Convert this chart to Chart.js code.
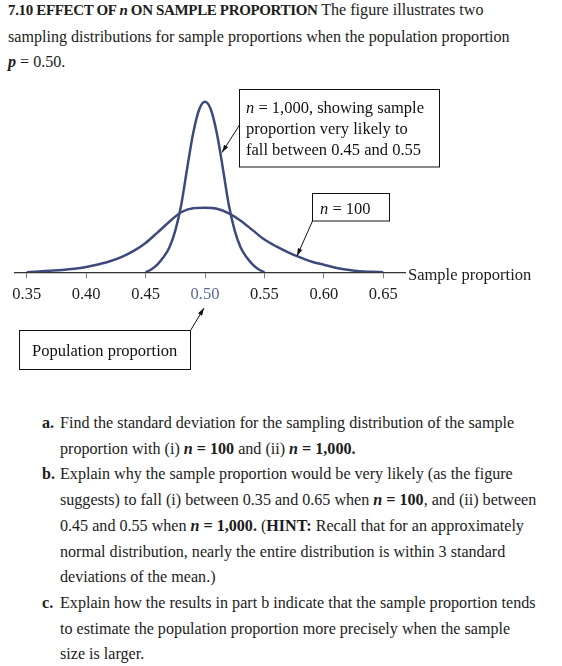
<!DOCTYPE html>
<html>
<head>
<meta charset="utf-8">
<script src="https://cdn.jsdelivr.net/npm/chart.js@4/dist/chart.umd.min.js"></script>
<style>
  body { margin: 0; background: #fff; width: 562px; height: 666px; position: relative; overflow: hidden; }
  .txt { position: absolute; font-family: "Liberation Serif", serif; font-size: 16.1px; line-height: 25.7px; color: #1c1c1c; white-space: nowrap; }
  #intro { left: 8px; top: -3px; }
  #intro b.head { font-size: 15px; letter-spacing: -0.35px; }
  #questions { left: 42px; top: 410px; }
  .item { padding-left: 18px; text-indent: -18px; }
  .item b.lbl { display: inline-block; width: 18px; text-indent: 0; }
  #wrap { position: absolute; left: 0; top: 88px; }
</style>
</head>
<body>
<div id="intro" class="txt">
  <b class="head">7.10 EFFECT OF <i>n</i> ON SAMPLE PROPORTION</b> The figure illustrates two<br>
  sampling distributions for sample proportions when the population proportion<br>
  <b><i>p</i></b> = 0.50.
</div>

<div id="wrap"><canvas id="myChart" width="562" height="292"></canvas></div>

<div id="questions" class="txt">
  <div class="item"><b class="lbl">a.</b>Find the standard deviation for the sampling distribution of the sample<br>
    proportion with (i) <b><i>n</i> = 100</b> and (ii) <b><i>n</i> = 1,000.</b></div>
  <div class="item"><b class="lbl">b.</b>Explain why the sample proportion would be very likely (as the figure<br>
    suggests) to fall (i) between 0.35 and 0.65 when <b><i>n</i> = 100</b>, and (ii) between<br>
    0.45 and 0.55 when <b><i>n</i> = 1,000.</b> (<b>HINT:</b> Recall that for an approximately<br>
    normal distribution, nearly the entire distribution is within 3 standard<br>
    deviations of the mean.)</div>
  <div class="item"><b class="lbl">c.</b>Explain how the results in part b indicate that the sample proportion tends<br>
    to estimate the population proportion more precisely when the sample<br>
    size is larger.</div>
</div>

<script>
// tick labels on the sample proportion axis
const tickValues = [0.35, 0.40, 0.45, 0.50, 0.55, 0.60, 0.65];

// n = 100 curve (heights)
const wideX = [0.35, 0.36, 0.37, 0.38, 0.39, 0.40, 0.41, 0.42, 0.43, 0.44, 0.45,
  0.46, 0.47, 0.48, 0.49, 0.50, 0.51, 0.52, 0.53, 0.54, 0.55,
  0.56, 0.57, 0.58, 0.59, 0.60, 0.61, 0.62, 0.63, 0.64, 0.65];
const wideY = [0, 0.8, 1.5, 2.3, 3.5, 5.3, 7.8, 11, 15.5, 21.5, 29.5,
  40, 51, 60.5, 64.5, 65, 64, 59.5, 52, 42.5, 33,
  26, 20, 15, 10.5, 7.5, 4.5, 2.5, 1, 0.4, 0];

// n = 1,000 curve
const narrowX = [0.450, 0.455, 0.460, 0.465, 0.470, 0.475, 0.480, 0.485, 0.490, 0.495, 0.500,
  0.505, 0.510, 0.515, 0.520, 0.525, 0.530, 0.535, 0.540, 0.545, 0.550];
const narrowY = [0, 3, 8, 15, 25, 42, 68, 105, 140, 164, 172,
  164, 140, 105, 68, 42, 25, 15, 8, 3, 0];

const CURVE = "#3e4a7c";
const SERIF = "'Liberation Serif', serif";
const TOP = 88; // canvas offset on the page

// Boxes, labels and arrows drawn over the chart (page pixel coords)
const notesPlugin = {
  id: "notes",
  afterDraw(chart) {
    const ctx = chart.ctx;
    const y = (v) => v - TOP;
    ctx.save();
    ctx.strokeStyle = "#111";
    ctx.fillStyle = "#111";
    ctx.lineWidth = 1;

    const box = (x1, y1, x2, y2) => {
      ctx.strokeRect(x1, y(y1), x2 - x1, y2 - y1);
    };
    const arrow = (x1, y1, x2, y2) => {
      ctx.beginPath();
      ctx.moveTo(x1, y(y1));
      ctx.lineTo(x2, y(y2));
      ctx.stroke();
      const a = Math.atan2(y2 - y1, x2 - x1);
      ctx.beginPath();
      ctx.moveTo(x2, y(y2));
      ctx.lineTo(x2 - 8 * Math.cos(a - 0.3), y(y2) - 8 * Math.sin(a - 0.3));
      ctx.lineTo(x2 - 8 * Math.cos(a + 0.3), y(y2) - 8 * Math.sin(a + 0.3));
      ctx.closePath();
      ctx.fill();
    };
    // text with an italic leading "n"
    const nText = (x, base, rest) => {
      ctx.font = "italic 16.5px " + SERIF;
      ctx.fillText("n", x, y(base));
      const w = ctx.measureText("n").width;
      ctx.font = "16.5px " + SERIF;
      ctx.fillText(rest, x + w, y(base));
    };

    ctx.textBaseline = "alphabetic";
    ctx.textAlign = "left";

    // n = 1,000 box
    box(239.5, 89.5, 439.5, 167);
    nText(246, 113, " = 1,000, showing sample");
    ctx.font = "16.5px " + SERIF;
    ctx.fillText("proportion very likely to", 246, y(133.8));
    ctx.fillText("fall between 0.45 and 0.55", 246, y(154.6));
    arrow(239.5, 125, 222, 152.5);

    // n = 100 box
    box(312.5, 193.5, 389.5, 221);
    nText(320, 213.5, " = 100");
    arrow(312.5, 221, 297, 256);

    // population proportion box
    box(19.5, 330.5, 190.5, 369.5);
    ctx.font = "16.5px " + SERIF;
    ctx.fillText("Population proportion", 32, y(356));
    arrow(190.5, 330.5, 204, 308);

    // axis label at the right end
    ctx.fillStyle = "#1c1c1c";
    ctx.fillText("Sample proportion", 408, y(280));
    ctx.restore();
  },
};

const toPoints = (xs, ys) => xs.map((x, i) => ({ x, y: ys[i] }));

new Chart(document.getElementById("myChart"), {
  type: "line",
  data: {
    datasets: [
      {
        label: "n = 100",
        data: toPoints(wideX, wideY),
        borderColor: CURVE,
        borderWidth: 2.5,
        pointRadius: 0,
        cubicInterpolationMode: "monotone",
        fill: false,
      },
      {
        label: "n = 1,000",
        data: toPoints(narrowX, narrowY),
        borderColor: CURVE,
        borderWidth: 2.5,
        pointRadius: 0,
        cubicInterpolationMode: "monotone",
        fill: false,
      },
    ],
  },
  options: {
    responsive: false,
    animation: false,
    layout: { padding: { left: 15, right: 157, top: 0, bottom: 68 } },
    plugins: {
      legend: { display: false },
      tooltip: { enabled: false },
    },
    scales: {
      x: {
        type: "linear",
        min: 0.3401,
        max: 0.6683,
        afterBuildTicks: (scale) => {
          scale.ticks = tickValues.map((v) => ({ value: v }));
        },
        ticks: {
          autoSkip: false,
          maxRotation: 0,
          padding: 7,
          font: { family: SERIF, size: 16.5 },
          color: (ctx) => (ctx.tick && ctx.tick.value === 0.5 ? "#5a699c" : "#1c1c1c"),
          callback: (v) => Number(v).toFixed(2),
        },
        grid: { drawOnChartArea: false, tickLength: 6, color: "#7a7a7a" },
        border: { color: "#333", width: 1.2 },
      },
      y: { display: false, min: 0, max: 186 },
    },
  },
  plugins: [notesPlugin],
});
</script>
</body>
</html>
